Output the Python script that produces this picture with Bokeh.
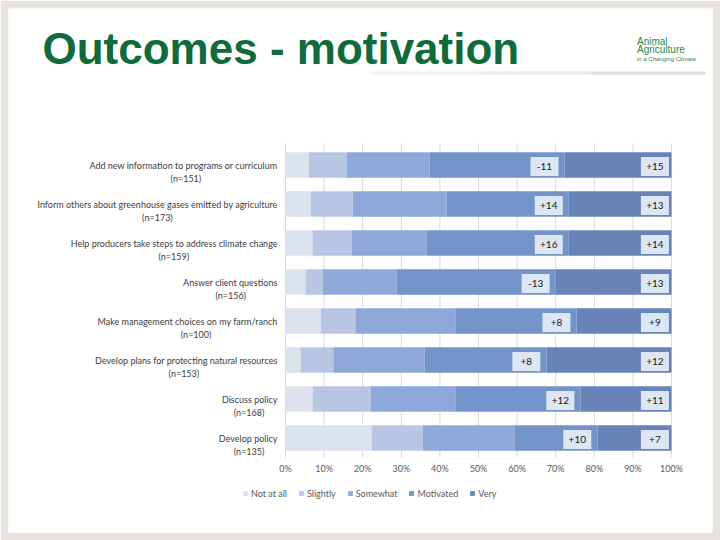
from bokeh.plotting import figure
from bokeh.models import ColumnDataSource, Range1d, Legend, LegendItem
from bokeh.core.properties import value
from bokeh.embed import file_html
from bokeh.resources import INLINE

# ---------------- data ----------------
categories = [
    "Add new information to programs or curriculum",
    "Inform others about greenhouse gases emitted by agriculture",
    "Help producers take steps to address climate change",
    "Answer client questions",
    "Make management choices on my farm/ranch",
    "Develop plans for protecting natural resources",
    "Discuss policy",
    "Develop policy",
]
n_resp = [151, 173, 159, 156, 100, 153, 168, 135]

levels = ["Not at all", "Slightly", "Somewhat", "Motivated", "Very"]
not_at_all = [6.0, 6.5, 7.0, 5.2, 9.1, 3.9, 7.0, 22.3]
slightly = [9.8, 10.9, 10.1, 4.4, 9.0, 8.5, 15.0, 13.2]
somewhat = [21.5, 24.3, 19.4, 19.2, 25.9, 23.6, 22.0, 23.8]
motivated = [35.0, 31.7, 36.9, 41.2, 31.4, 31.6, 32.4, 21.5]
very = [27.7, 26.6, 26.6, 30.0, 24.6, 32.4, 23.6, 19.2]

change_motivated = ["-11", "+14", "+16", "-13", "+8", "+8", "+12", "+10"]
change_very = ["+15", "+13", "+14", "+13", "+9", "+12", "+11", "+7"]

x_ticks = [0, 10, 20, 30, 40, 50, 60, 70, 80, 90, 100]
x_tick_labels = ["0%", "10%", "20%", "30%", "40%", "50%", "60%", "70%", "80%", "90%", "100%"]

colors = ["#dde2ef", "#b9c6e3", "#8fa8da", "#7394c9", "#6783b8"]

# ---------------- layout helpers (page pixels -> data units) ----------------
W, H, B = 720, 540, 8
ZERO_PX, PX_PER_PCT, TOP_PX, ROW_PX = 285.0, 3.86, 145.0, 39.0


def dx(px):
    return (px - ZERO_PX) / PX_PER_PCT


def dy(py):
    return (py - TOP_PX) / ROW_PX


p = figure(width=W, height=H, output_backend="svg", toolbar_location=None,
           x_range=Range1d(dx(B), dx(W - B)), y_range=Range1d(dy(H - B), dy(B)),
           x_axis_location=None, y_axis_location=None, title=None,
           min_border_left=B, min_border_right=B, min_border_top=B, min_border_bottom=B)
p.grid.visible = False
p.outline_line_color = None
p.background_fill_color = "white"
p.border_fill_color = "#e6e3df"

ys = [i + 0.5 for i in range(len(categories))]
data = {"y": ys}
for name, vals in zip(levels, [not_at_all, slightly, somewhat, motivated, very]):
    data[name] = vals
src = ColumnDataSource(data)

# gridlines from tick positions
p.segment(x0=x_ticks, x1=x_ticks, y0=[-0.05] * len(x_ticks), y1=[len(categories)] * len(x_ticks),
          line_color="#d9d9d9", line_width=1)

renderers = p.hbar_stack(levels, y="y", height=0.65, color=colors, line_color=None, source=src)

# tick labels
p.text(x=x_ticks, y=[dy(468)] * len(x_ticks), text=x_tick_labels, text_font=value("Lato"),
       text_font_size="9px", text_color="#595959", text_align="center", text_baseline="middle")

# category labels (two lines)
right_x = dx(277)
line2 = ["(n=%d)" % n for n in n_resp]
line2_x = [right_x - len(c) * 4.07 / PX_PER_PCT / 2 for c in categories]
p.text(x=[right_x] * len(categories), y=[y + 0.0 for y in ys], text=categories,
       text_font=value("Lato"), text_font_size="9px", text_color="#404040",
       text_align="right", text_baseline="middle")
p.text(x=line2_x, y=[y + 0.34 for y in ys], text=line2,
       text_font=value("Lato"), text_font_size="9px", text_color="#404040",
       text_align="center", text_baseline="middle")

# change labels
cum_mot = [a + b + c + d for a, b, c, d in zip(not_at_all, slightly, somewhat, motivated)]
lab1_x = [c - 5.2 for c in cum_mot]
lab2_x = [95.7] * len(categories)
lab_y = [y + 0.04 for y in ys]
for lx, lt in ((lab1_x, change_motivated), (lab2_x, change_very)):
    p.rect(x=lx, y=lab_y, width=28, height=19, width_units="screen", height_units="screen",
           fill_color="#dde7f3", line_color=None)
    p.text(x=lx, y=lab_y, text=lt, text_font=value("Lato"), text_font_size="10px",
           text_color="#1a1a1a", text_align="center", text_baseline="middle")

legend = Legend(items=[LegendItem(label=n, renderers=[r]) for n, r in zip(levels, renderers)],
                orientation="horizontal", location=(234, 33), glyph_width=6, glyph_height=6,
                label_height=12, label_standoff=3, spacing=11, padding=0, margin=0,
                label_text_font="Lato", label_text_font_size="9px",
                label_text_color="#595959", background_fill_alpha=0, border_line_color=None)
p.add_layout(legend)

# title
p.text(x=[dx(42)], y=[dy(47.5)], text=["Outcomes - motivation"], text_font=value("Liberation Sans"),
       text_font_style="bold", text_font_size="44px", text_color="#0e6b3a",
       text_align="left", text_baseline="alphabetic")
# title underline (fading to the left)
for x0, x1, col in ((370, 480, "#f4f2f0"), (480, 590, "#ece9e6"), (590, 705, "#e3e0dc")):
    p.segment(x0=[dx(x0)], x1=[dx(x1)], y0=[dy(72.5)], y1=[dy(72.5)], line_color=col, line_width=3)

# logo text
p.text(x=[dx(636.5)] * 2, y=[dy(40.5), dy(48.8)], text=["Animal", "Agriculture"],
       text_font=value("Liberation Sans"), text_font_size="10px", text_color="#2b8a3e",
       text_align="left", text_baseline="alphabetic")
p.text(x=[dx(636.5)], y=[dy(58.8)], text=["in a Changing Climate"],
       text_font=value("Liberation Sans"), text_font_size="6px", text_color="#3d7a50",
       text_align="left", text_baseline="alphabetic")

open("out.html", "w").write(file_html(p, INLINE))
